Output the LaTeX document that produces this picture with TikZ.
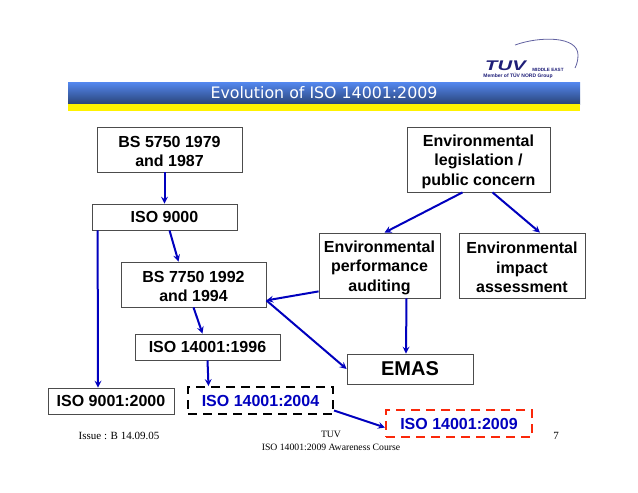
\documentclass[tikz,border=0pt]{standalone}
\usepackage{fontspec}
\setmainfont{Liberation Sans}
\newfontfamily\titlefont{DejaVu Sans}
\newfontfamily\footfont{Liberation Serif}
\usepackage{tikz}
\definecolor{tuvblue}{RGB}{0,0,190}
\definecolor{barlight}{RGB}{84,136,240}
\definecolor{bardark}{RGB}{42,68,120}
\definecolor{logoblue}{RGB}{30,30,120}
\definecolor{newred}{RGB}{250,40,10}
\newcommand{\lowline}{\rule{0pt}{15.5pt}}
\tikzset{
    box/.style={draw=black!70,thick,align=center,inner sep=0pt,font=\fontsize{16}{19.5}\selectfont\bfseries},
    dashbox/.style={box,text=tuvblue,line width=2pt,dash pattern=on 9pt off 6pt,minimum height=27pt},
    link/.style={->,>=stealth,draw=tuvblue,line width=2pt},
    foot/.style={font=\fontsize{9.7}{12}\selectfont\footfont,inner sep=0pt}
}
\begin{document}
\begin{tikzpicture}[x=1pt,y=-1pt]
    \useasboundingbox (0,0) rectangle (638,493);

    % title bar
    \shade[top color=barlight,bottom color=bardark] (68,82) rectangle (580,104);
    \fill[yellow] (68,104) rectangle (580,111);
    \node[text=white,inner sep=0pt,font=\fontsize{15.8}{18}\selectfont\titlefont] (title) at (324,93) {Evolution of ISO 14001:2009};

    % logo
    \draw[logoblue!70,line width=0.8pt] (515,45) .. controls (540,36) and (578,36) .. (578,55) .. controls (578,60) and (577,64) .. (575,68);
    \node[text=logoblue,inner sep=0pt,xscale=1.45,font=\fontsize{14}{14}\selectfont\bfseries\itshape] (tuv) at (505.5,66) {TUV};
    \node[text=logoblue,inner sep=0pt,font=\fontsize{4.6}{5}\selectfont\bfseries] (east) at (548,70) {MIDDLE EAST};
    \node[text=logoblue,inner sep=0pt,font=\fontsize{5}{5}\selectfont\bfseries] (member) at (518,76) {Member of TÜV NORD Group};

    % boxes
    \node[box,minimum width=145pt,minimum height=45pt] (bsfive) at (169.5,149.5) {\lowline BS 5750 1979\\and 1987};
    \node[box,minimum width=143pt,minimum height=65pt] (legislation) at (478.5,159.5) {\lowline Environmental\\legislation /\\public concern};
    \node[box,minimum width=145pt,minimum height=26pt] (isonine) at (164.5,217) {ISO 9000};
    \node[box,minimum width=121pt,minimum height=65pt] (auditing) at (379.5,265.5) {\lowline Environmental\\performance\\auditing};
    \node[box,minimum width=126pt,minimum height=65pt] (impact) at (522,265.5) {\lowline Environmental\\impact\\assessment};
    \node[box,minimum width=145pt,minimum height=45pt] (bsseven) at (193.5,284.5) {\lowline BS 7750 1992\\and 1994};
    \node[box,minimum width=145pt,minimum height=26pt] (isosix) at (207.5,347) {ISO 14001:1996};
    \node[box,minimum width=126pt,minimum height=30pt,font=\fontsize{20}{24}\selectfont\bfseries] (emas) at (410,369) {EMAS};
    \node[box,minimum width=126pt,minimum height=26pt] (isonineoo) at (111,401) {ISO 9001:2000};
    \node[dashbox,draw=black,minimum width=145pt] (isofour) at (260.5,400.5) {ISO 14001:2004};
    \node[dashbox,draw=newred,minimum width=146pt] (isonew) at (459,423.5) {ISO 14001:2009};

    % connectors
    \draw[link] ([xshift=-5pt]bsfive.south) -- (isonine.north);
    \draw[link] ([xshift=5pt]isonine.south) -- ([xshift=-15pt]bsseven.north);
    \draw[link] ([xshift=6pt]isonine.south west) -- ([xshift=-13pt]isonineoo.north);
    \draw[link] (bsseven.south) -- ([xshift=-5pt]isosix.north);
    \draw[link] (isosix.south) -- ([xshift=-52pt]isofour.north);
    \draw[link] ([yshift=-10pt]isofour.east) -- ([yshift=-4pt]isonew.west);
    \draw[link] ([xshift=-16pt]legislation.south) -- ([xshift=5pt]auditing.north);
    \draw[link] ([xshift=14pt]legislation.south) -- ([xshift=18pt]impact.north);
    \draw[link] ([yshift=7pt]auditing.south west) -- ([yshift=7pt]bsseven.south east);
    \draw[link] ([yshift=7pt]bsseven.south east) -- (emas.west);
    \draw[link] ([xshift=27pt]auditing.south) -- ([xshift=-4pt]emas.north);

    % footer
    \node[foot,font=\fontsize{11}{12}\selectfont\footfont] (issue) at (119,435.5) {Issue : B 14.09.05};
    \node[foot] (org) at (331,434.5) {TUV};
    \node[foot] (course) at (331,447.5) {ISO 14001:2009 Awareness Course};
    \node[foot,font=\fontsize{11}{12}\selectfont\footfont] (page) at (556,435.5) {7};
\end{tikzpicture}
\end{document}
